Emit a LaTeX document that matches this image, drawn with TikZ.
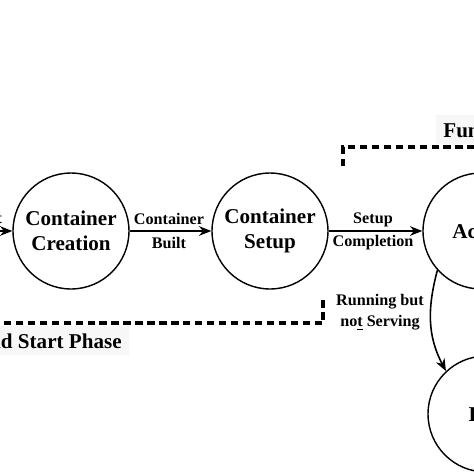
\documentclass[tikz,border=0pt]{standalone}
\usepackage{fontspec}
\setmainfont{Liberation Serif}
\usetikzlibrary{arrows.meta}

\newcommand*{\pxmax}{474}

\begin{document}
\begin{tikzpicture}
[
	x=0.02cm, y=-0.02cm,
	state/.style={circle,draw,line width=0.8pt,minimum size=2.32cm,inner sep=0pt,align=center,font=\fontsize{12}{14.2}\selectfont\bfseries},
	trans/.style={-{Stealth[length=7pt,width=5.5pt]},line width=0.9pt},
	lbl/.style={font=\fontsize{9.2}{12}\selectfont\bfseries,inner sep=2pt,align=center},
	phase/.style={dash pattern=on 4.2pt off 2.6pt,line width=1.8pt},
	phaselbl/.style={font=\fontsize{12}{14}\selectfont\bfseries,fill=black!3,inner sep=4pt}
]

	% frame
	\path[use as bounding box] (0,0) rectangle (\pxmax,\pxmax);
	\clip (0,0) rectangle (\pxmax,\pxmax);

	% phase labels
	\node[phaselbl,anchor=base east] (coldlbl) at (129,348) {Cold Start Phase};
	\node[phaselbl,anchor=base west] (funclbl) at (436,137) {Function Execution Phase};

	% phase borders
	\coordinate (coldin) at (-20,323);
	\coordinate (coldcorner) at (323,323);
	\coordinate (coldend) at (323,299);
	\draw[phase] (coldin) -- (coldcorner) -- (coldend);
	%
	\coordinate (funcend) at (343,166);
	\coordinate (funccorner) at (343,147);
	\coordinate (funcout) at (500,147);
	\draw[phase] (funcend) -- (funccorner) -- (funcout);

	% states
	\node[state] at (71,231) (creation) {Container\\Creation};
	\node[state] at (270,231) (setup) {Container\\Setup};
	\node[state] at (481,231) (active) {Active};
	\node[state] at (486,414) (idle) {Idle};

	% transitions
	\coordinate (request) at (-60,231);
	\draw[trans] (request) -- (creation);
	\node[lbl,anchor=base east] (reqlbl) at (6,223) {Request};
	%
	\draw[trans] (creation) -- (setup);
	\node[lbl] at (169,219) (builtA) {Container};
	\node[lbl] at (169,243) (builtB) {Built};
	%
	\draw[trans] (setup) -- (active);
	\node[lbl] at (373,220) (doneA) {Setup};
	\node[lbl] at (373,243) (doneB) {Completion};
	%
	\draw[trans] (active.222) to[out=255,in=118] (idle.133);
	\node[lbl] at (380,312) (runlbl) {Running but\\no\underline{t} Serving};

\end{tikzpicture}
\end{document}
